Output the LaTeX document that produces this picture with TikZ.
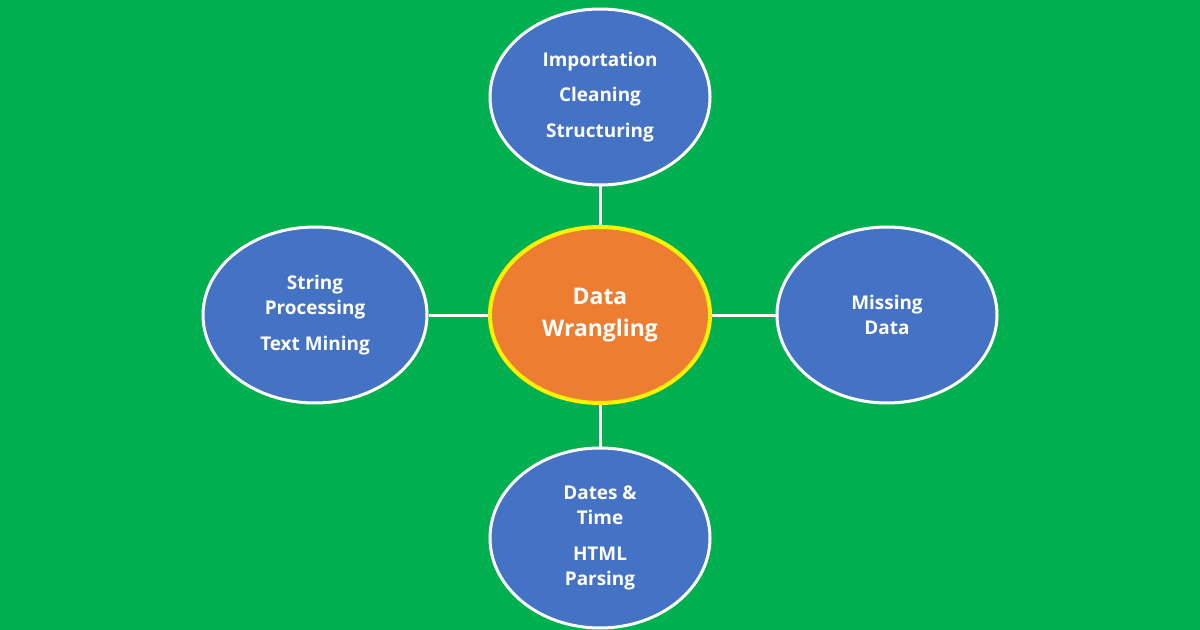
\documentclass[tikz,border=0pt]{standalone}
\usepackage{fontspec}
\setmainfont{Open Sans}
\usetikzlibrary{shapes.geometric}
\definecolor{bg}{HTML}{00B050}
\definecolor{blu}{HTML}{4472C4}
\definecolor{org}{HTML}{ED7D31}
\begin{document}
\begin{tikzpicture}[x=1bp,y=-1bp,
  bub/.style={ellipse,fill=blu,draw=white,line width=3bp,minimum width=220bp,minimum height=176bp,
    text=white,font=\fontsize{19}{25}\selectfont\bfseries,align=center,inner sep=0pt},
  link/.style={draw=white,line width=3bp}]
\fill[bg] (0,0) rectangle (1200,630);
\node[bub] (top) at (600,97) {Importation\\[11bp]Cleaning\\[11bp]Structuring};
\node[bub,minimum width=224bp] (left) at (315,315) {String\\Processing\\[11bp]Text Mining};
\node[bub] (right) at (887,315) {Missing\\Data};
\node[bub,minimum height=180bp] (bot) at (600,538) {Dates \&\\Time\\[11bp]HTML\\Parsing};
\node[bub,fill=org,draw=yellow,line width=4bp,font=\fontsize{23}{32}\selectfont\bfseries] (c) at (600,315) {Data\\Wrangling};
\draw[link] (c) -- (top);
\draw[link] (c) -- (left);
\draw[link] (c) -- (right);
\draw[link] (c) -- (bot);
\end{tikzpicture}
\end{document}
